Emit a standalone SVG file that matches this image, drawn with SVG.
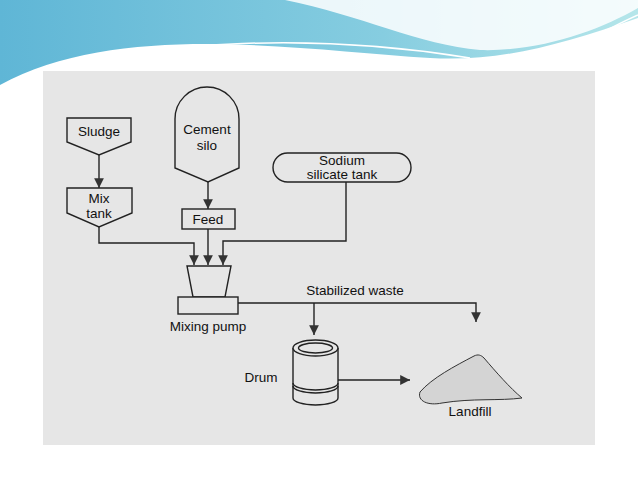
<svg xmlns="http://www.w3.org/2000/svg" width="638" height="478" viewBox="0 0 638 478">
<style>
.s{fill:none;stroke:#222;stroke-width:1.4}
.b{fill:#e6e6e6;stroke:#222;stroke-width:1.4}
text{font-family:"Liberation Sans",Arial,sans-serif;font-size:13.5px;fill:#111;text-anchor:middle}
</style>
<defs>
<linearGradient id="g" x1="0" y1="0" x2="1" y2="0">
<stop offset="0" stop-color="#5fb6d6"/><stop offset="0.6" stop-color="#86cde0"/><stop offset="1" stop-color="#b5e6ea"/>
</linearGradient>
<marker id="a" viewBox="0 0 10 10" refX="10" refY="5" markerWidth="7" markerHeight="7" orient="auto-start-reverse"><path d="M0,0 L10,5 L0,10 z" fill="#333"/></marker>
</defs>
<rect width="638" height="478" fill="#fff"/>
<path d="M0,0 H638 V18 C560,45 500,62 430,58 C300,50 120,20 0,85 Z" fill="url(#g)"/>
<path d="M285,0 C360,15 420,45 480,50 C540,52 600,30 638,8 L638,0 Z" fill="#fff" opacity="0.85"/>
<path d="M30,80 C150,35 330,35 470,58" fill="none" stroke="#fff" stroke-width="1.5"/>
<path d="M560,50 C590,40 615,25 638,15" fill="none" stroke="#fff" stroke-width="1.5"/>
<rect x="43" y="71" width="552" height="374" fill="#e6e6e6"/>
<g id="sludge"><path class="b" d="M67,118 H131 V142 L99,155 L67,142 Z"/><text x="99" y="136">Sludge</text></g>
<g id="mixtank"><path class="b" d="M67,188 H132 V213 L99,227 L67,213 Z"/><text x="99" y="203">Mix</text><text x="99" y="218">tank</text></g>
<g id="silo"><path class="b" d="M175,168 V119 A32,32 0 0 1 239,119 V168 L208,182 Z"/><text x="207" y="134">Cement</text><text x="207" y="150">silo</text></g>
<g id="feed"><rect class="b" x="182" y="209" width="53" height="20"/><text x="208" y="224">Feed</text></g>
<g id="sodium"><rect class="b" x="273" y="153" width="138" height="29" rx="14.5"/><text x="342" y="165">Sodium</text><text x="342" y="179">silicate tank</text></g>
<g id="hopper"><path class="b" d="M187,266 H231 L225,297 H193 Z"/></g>
<g id="pump"><rect class="b" x="178" y="297" width="60" height="17"/><text x="208" y="331">Mixing pump</text></g>
<g id="drum">
<path class="b" d="M293,348 V398 A22.5,7 0 0 0 338,398 V348"/>
<ellipse class="b" cx="315.5" cy="348" rx="22.5" ry="8"/>
<ellipse class="s" cx="315.5" cy="348" rx="17" ry="5"/>
<path class="s" d="M293,383 A22.5,7 0 0 0 338,383 M293,386 A22.5,7 0 0 0 338,386" stroke-width="0.8"/>
<text x="261" y="382">Drum</text></g>
<g id="landfill"><path d="M420,392 C432,378 455,366 474,356 C478,354 481,355 484,358 C496,372 510,388 522,398 C500,401 472,398 442,403 C428,406 417,401 420,392 Z" fill="#d4d4d4" stroke="#333" stroke-width="1"/><text x="470" y="416">Landfill</text></g>
<text x="355" y="295">Stabilized waste</text>
<g id="connectors">
<path class="s" d="M99,155 V188" marker-end="url(#a)"/>
<path class="s" d="M208,182 V209" marker-end="url(#a)"/>
<path class="s" d="M99,227 V243 H194 V265" marker-end="url(#a)"/>
<path class="s" d="M208,229 V265" marker-end="url(#a)"/>
<path class="s" d="M346,182 V241 H223 V265" marker-end="url(#a)"/>
<path class="s" d="M238,303 H476 V322" marker-end="url(#a)"/>
<path class="s" d="M314,303 V335" marker-end="url(#a)"/>
<path class="s" d="M338,380 H410" marker-end="url(#a)"/>
</g>
</svg>
